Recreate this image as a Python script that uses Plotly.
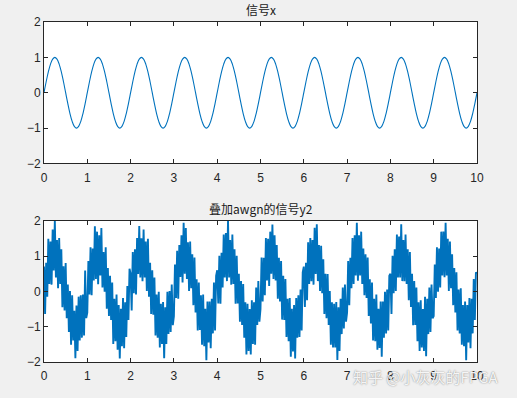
import plotly.graph_objects as go

# ---------------- data ----------------
# signal x: sampled every 0.05 s from t = 0 to 10
x_step = 0.05
x_vals = [
    0.00, 0.31, 0.59, 0.81, 0.95, 1.00, 0.95, 0.81, 0.59, 0.31, 0.00, -0.31, -0.59, -0.81, -0.95, -1.00, -0.95, -0.81, -0.59, -0.31,
    0.00, 0.31, 0.59, 0.81, 0.95, 1.00, 0.95, 0.81, 0.59, 0.31, 0.00, -0.31, -0.59, -0.81, -0.95, -1.00, -0.95, -0.81, -0.59, -0.31,
    0.00, 0.31, 0.59, 0.81, 0.95, 1.00, 0.95, 0.81, 0.59, 0.31, 0.00, -0.31, -0.59, -0.81, -0.95, -1.00, -0.95, -0.81, -0.59, -0.31,
    0.00, 0.31, 0.59, 0.81, 0.95, 1.00, 0.95, 0.81, 0.59, 0.31, 0.00, -0.31, -0.59, -0.81, -0.95, -1.00, -0.95, -0.81, -0.59, -0.31,
    0.00, 0.31, 0.59, 0.81, 0.95, 1.00, 0.95, 0.81, 0.59, 0.31, 0.00, -0.31, -0.59, -0.81, -0.95, -1.00, -0.95, -0.81, -0.59, -0.31,
    0.00, 0.31, 0.59, 0.81, 0.95, 1.00, 0.95, 0.81, 0.59, 0.31, 0.00, -0.31, -0.59, -0.81, -0.95, -1.00, -0.95, -0.81, -0.59, -0.31,
    0.00, 0.31, 0.59, 0.81, 0.95, 1.00, 0.95, 0.81, 0.59, 0.31, 0.00, -0.31, -0.59, -0.81, -0.95, -1.00, -0.95, -0.81, -0.59, -0.31,
    0.00, 0.31, 0.59, 0.81, 0.95, 1.00, 0.95, 0.81, 0.59, 0.31, 0.00, -0.31, -0.59, -0.81, -0.95, -1.00, -0.95, -0.81, -0.59, -0.31,
    0.00, 0.31, 0.59, 0.81, 0.95, 1.00, 0.95, 0.81, 0.59, 0.31, 0.00, -0.31, -0.59, -0.81, -0.95, -1.00, -0.95, -0.81, -0.59, -0.31,
    0.00, 0.31, 0.59, 0.81, 0.95, 1.00, 0.95, 0.81, 0.59, 0.31, 0.00, -0.31, -0.59, -0.81, -0.95, -1.00, -0.95, -0.81, -0.59, -0.31,
    0.00,
]

y2_step = 0.025
y2_vals = [
    0.70, -0.64, 0.81, -0.15, 1.49, 0.21, 1.41, 0.19, 1.75, 0.59, 2.00, 0.39, 1.45, 0.09, 1.51, 0.21, 1.19, -0.45, 0.71, -0.54,
    0.80, -0.76, 0.19, -1.15, 0.01, -1.51, -0.11, -1.39, -0.55, -1.89, -0.40, -1.69, -0.15, -1.39, -0.11, -1.31, -0.09, -1.25, 0.59, -0.76,
    -0.60, 0.86, -0.09, 1.25, -0.11, 1.21, 0.31, 1.84, 0.35, 1.69, 0.20, 1.59, 0.45, 1.79, 0.11, 1.11, -0.01, 1.25, -0.49, 0.66,
    -0.70, 0.44, -0.81, 0.25, -1.49, -0.21, -1.41, -0.09, -1.65, -0.39, -1.90, -0.49, -1.55, -0.19, -1.61, -0.31, -1.29, 0.15, -0.81, 0.64,
    0.50, -0.54, 1.11, -0.05, 1.19, -0.09, 1.51, 0.49, 1.85, 0.39, 1.50, 0.29, 1.75, 0.39, 1.41, 0.01, 1.49, -0.15, 0.81, -0.64,
    0.60, -0.66, 0.39, -1.25, -0.09, -1.31, -0.01, -1.59, -0.35, -1.49, -0.30, -1.89, -0.45, -1.49, -0.01, -1.21, 0.01, -1.15, 0.19, -0.96,
    -0.70, 0.76, -0.19, 1.15, -0.21, 1.31, 0.41, 1.59, 0.25, 1.94, 0.50, 1.79, 0.35, 1.39, 0.01, 1.41, 0.09, 1.05, -0.39, 0.96,
    -0.60, 0.34, -1.11, 0.25, -1.09, -0.11, -1.51, -0.09, -1.55, -0.49, -1.95, -0.29, -1.45, -0.29, -1.61, -0.21, -1.19, 0.25, -1.11, 0.44,
    0.60, -0.34, 1.01, -0.35, 1.09, 0.11, 1.61, 0.39, 1.65, 0.29, 2.00, 0.39, 1.45, 0.19, 1.61, 0.21, 1.19, -0.35, 1.01, -0.34,
    0.50, -0.86, 0.29, -0.95, 0.21, -1.31, -0.31, -1.79, -0.35, -1.69, -0.50, -1.79, -0.25, -1.49, -0.31, -1.51, 0.11, -0.95, 0.29, -0.86,
    -0.50, 0.96, -0.29, 0.95, -0.11, 1.51, 0.31, 1.49, 0.15, 1.69, 0.50, 1.89, 0.35, 1.59, 0.31, 1.31, -0.21, 0.95, -0.29, 0.86,
    -0.80, 0.44, -0.81, 0.35, -1.29, -0.21, -1.41, -0.19, -1.85, -0.49, -1.70, -0.39, -1.90, -0.19, -1.31, -0.11, -1.29, 0.05, -1.11, 0.54,
    0.70, -0.44, 0.81, -0.25, 1.39, 0.21, 1.51, 0.29, 1.45, 0.19, 1.80, 0.49, 1.90, 0.29, 1.31, 0.01, 1.29, -0.05, 0.91, -0.64,
    0.50, -0.76, 0.49, -0.95, 0.01, -1.51, -0.31, -1.59, -0.35, -1.59, -0.30, -1.94, -0.45, -1.69, -0.21, -1.21, 0.11, -1.05, 0.19, -0.86,
    -0.60, 0.86, -0.39, 0.95, 0.09, 1.51, 0.21, 1.59, 0.45, 1.94, 0.30, 1.59, 0.45, 1.69, 0.21, 1.21, -0.11, 1.05, -0.19, 0.96,
    -0.70, 0.34, -0.91, 0.25, -1.39, -0.21, -1.41, -0.09, -1.65, -0.49, -1.60, -0.29, -1.85, -0.29, -1.31, -0.01, -1.19, 0.05, -1.11, 0.44,
    0.50, -0.64, 1.01, -0.05, 1.19, 0.01, 1.61, 0.39, 1.55, 0.39, 1.90, 0.29, 1.45, 0.29, 1.61, 0.21, 1.19, -0.25, 1.11, -0.44,
    0.50, -0.96, 0.29, -0.95, 0.11, -1.41, -0.31, -1.69, -0.25, -1.59, -0.50, -1.69, -0.15, -1.84, -0.21, -1.21, 0.11, -1.15, 0.19, -0.76,
    -0.70, 0.76, -0.19, 1.25, -0.01, 1.21, 0.11, 1.69, 0.45, 1.69, 0.40, 1.94, 0.45, 1.49, 0.01, 1.41, 0.09, 1.05, -0.39, 0.66,
    -0.60, 0.54, -1.11, 0.05, -1.19, 0.09, -1.51, -0.39, -1.55, -0.29, -1.95, -0.39, -1.45, -0.19, -1.61, -0.21, -1.19, 0.35, -0.81, 0.54,
    0.50,
]

x_ticks = [0, 1, 2, 3, 4, 5, 6, 7, 8, 9, 10]
y_ticks = [-2, -1, 0, 1, 2]
title_top = "信号x"
title_bottom = "叠加awgn的信号y2"
watermark = "知乎 @小灰灰的FPGA"

# ---------------- figure ----------------
LINE = "#0072BD"
AX = "#262626"
FONT = "Liberation Sans, Arial, Noto Sans CJK SC, sans-serif"

fig = go.Figure()
fig.add_trace(go.Scatter(y=x_vals, x0=0, dx=x_step, mode="lines", line=dict(color=LINE, width=1.1, shape="spline"),
                         xaxis="x", yaxis="y", showlegend=False))
fig.add_trace(go.Scatter(y=y2_vals, x0=0, dx=y2_step, mode="lines",
                         line=dict(color=LINE, width=1.9, simplify=False),
                         xaxis="x2", yaxis="y2", showlegend=False))

axis_common = dict(
    showgrid=False, zeroline=False, showline=True, linecolor=AX, linewidth=1,
    mirror="allticks", ticks="inside", ticklen=4, tickcolor=AX, tickwidth=1,
    tickfont=dict(family=FONT, size=12, color=AX),
)

pw = 517 - 44 - 40
ph = 398 - 22 - 36

fig.update_layout(
    width=517, height=398,
    margin=dict(l=44, r=40, t=22, b=36),
    paper_bgcolor="#F0F0F0", plot_bgcolor="white",
    template="none",
    xaxis=dict(domain=[0, 1], range=[0, 10], tickvals=x_ticks, anchor="y", ticklabelstandoff=3, **axis_common),
    yaxis=dict(domain=[0.584, 1], range=[-2, 2], tickvals=y_ticks, anchor="x", **axis_common),
    xaxis2=dict(domain=[0, 1], range=[0, 10], tickvals=x_ticks, anchor="y2", ticklabelstandoff=3, **axis_common),
    yaxis2=dict(domain=[0, 0.4156], range=[-2, 2], tickvals=y_ticks, anchor="x2", **axis_common),
    annotations=[
        dict(text=title_top, x=0.5, y=1, xref="paper", yref="paper", xanchor="center", yanchor="bottom",
             yshift=2, showarrow=False, font=dict(family="Noto Sans CJK SC, Liberation Sans", size=12, color="#1a1a1a")),
        dict(text=title_bottom, x=0.5, y=0.4156, xref="paper", yref="paper", xanchor="center", yanchor="bottom",
             yshift=2, showarrow=False, font=dict(family="Noto Sans CJK SC, Liberation Sans", size=12, color="#1a1a1a")),
        dict(text=watermark, x=(426 - 44) / pw, y=(398 - 36 - 376) / ph, xref="paper", yref="paper",
             xanchor="center", yanchor="middle", showarrow=False,
             font=dict(family="Noto Sans CJK SC, Liberation Sans", size=15, color="rgba(255,255,255,0.92)",
                       shadow="0px 0px 1.5px #666")),
    ],
)

fig.write_html("out.html")
